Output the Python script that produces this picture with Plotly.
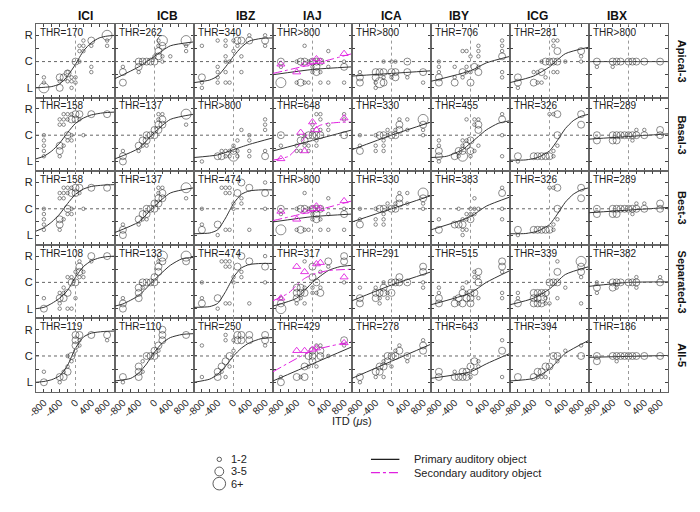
import plotly.graph_objects as go
from plotly.subplots import make_subplots

cols = ["ICI", "ICB", "IBZ", "IAJ", "ICA", "IBY", "ICG", "IBX"]
rows = ["Apical-3", "Basal-3", "Best-3", "Separated-3", "All-5"]
x_ticks = [-800, -400, 0, 400, 800]

thr_apical = ["THR=170", "THR=262", "THR=340", "THR>800", "THR>800", "THR=706", "THR=281", "THR>800"]
thr_basal = ["THR=158", "THR=137", "THR>800", "THR=648", "THR=330", "THR=455", "THR=326", "THR=289"]
thr_best = ["THR=158", "THR=137", "THR=474", "THR>800", "THR=330", "THR=383", "THR=326", "THR=289"]
thr_sep = ["THR=108", "THR=133", "THR=474", "THR=317", "THR=291", "THR=515", "THR=339", "THR=382"]
thr_all = ["THR=119", "THR=110", "THR=250", "THR=429", "THR=278", "THR=643", "THR=394", "THR=186"]

# points: (ITD, response, size class 1=1-2, 2=3-5, 3=6+)
ap_ICI = [(-800,-1,3),(-800,-0.8,1),(-800,-0.6,1),(-400,-1,2),(-400,-0.6,2),(-400,-0.75,1),(-300,-0.6,2),(-200,-0.45,2),(-200,-0.75,1),(-200,-0.4,1),(-100,-0.6,1),(-100,-0.75,1),(-100,-1,1),(0,0,2),(0,-0.6,1),(0,-0.8,1),(100,0.6,1),(100,0.4,1),(100,0,1),(200,0.8,1),(200,0.6,1),(200,0.4,1),(400,0.8,2),(400,0.6,1),(400,-0.2,1),(400,-0.4,1),(800,1,3),(800,0.8,1),(800,0.6,1)]
ap_ICB = [(-800,-0.8,2),(-800,-0.4,2),(-800,-0.2,1),(-400,-0.2,2),(-400,0,2),(-400,-0.4,1),(-300,0,2),(-200,0,2),(-100,0,2),(0,0,2),(0,0.2,1),(100,0.4,2),(100,0.2,2),(100,0.6,1),(100,0.8,1),(200,0.8,3),(200,0.6,2),(200,0.2,1),(200,0,1),(400,0.2,1),(800,0.8,3),(800,0.6,1),(800,0.4,1)]
ap_IBZ = [(-800,-0.6,2),(-800,-0.8,1),(-800,-1,1),(-800,0.6,1),(-400,-0.2,1),(-400,-0.4,1),(-400,-0.6,1),(-400,-0.8,1),(-400,0.8,1),(-200,0.8,1),(-200,0.6,1),(-200,0.2,1),(-200,0,1),(-200,-0.4,1),(-200,-0.8,1),(-100,-0.8,1),(-100,0,1),(0,0.8,1),(0,0.4,1),(100,0.8,2),(100,0.6,1),(200,0.8,2),(200,0.2,1),(200,-0.4,1),(400,0.8,2),(400,1,1),(800,0.8,2),(800,0.6,1),(800,1,1)]
ap_IAJ = [(-800,0,2),(-800,-0.8,3),(-800,-0.2,1),(-400,0,1),(-400,-0.8,1),(-300,0,2),(-300,-0.8,2),(-200,0,2),(-200,-0.8,1),(-200,0.6,1),(-100,0,1),(-100,-0.8,1),(0,0,2),(0,-0.2,1),(0,-0.4,1),(100,-0.2,2),(100,-0.4,2),(100,0,2),(200,0,2),(200,-0.4,1),(200,-0.8,1),(400,-0.2,1),(400,0.4,1),(400,-0.8,1),(800,0,1),(800,-0.2,2),(800,-0.8,1)]
ap_ICA = [(-800,-0.4,1),(-800,-0.6,2),(-800,-0.8,2),(-400,-0.4,2),(-400,-0.6,2),(-400,-0.8,1),(-400,-1,1),(-300,-0.4,2),(-300,-0.8,3),(-200,-0.4,2),(-200,-0.8,2),(-200,-0.6,1),(-200,0,1),(0,-0.4,2),(0,-0.6,1),(0,0,1),(100,-0.4,2),(100,-0.6,2),(100,0,1),(400,-0.4,2),(400,0,2),(400,-0.6,1),(800,-0.4,2),(800,-0.8,1)]
ap_IBY = [(-800,-0.6,2),(-800,-0.8,2),(-800,-0.4,1),(-800,-0.2,1),(-800,0,1),(-400,-0.6,1),(-400,-0.8,2),(-400,-0.2,1),(-200,-0.6,1),(-200,-0.4,2),(-200,0.4,1),(-100,-0.4,1),(-100,-0.2,1),(-100,0.4,1),(0,-0.4,1),(0,-0.8,2),(0,0.2,1),(100,-0.2,2),(200,-0.4,2),(200,-0.2,1),(200,0.2,1),(200,0.4,1),(200,0.6,1),(800,0.2,2),(800,0.4,1),(800,0.6,1),(800,0.8,1),(800,-0.6,1),(800,-0.4,1)]
ap_ICG = [(-800,-0.6,2),(-800,-0.8,2),(-800,-1,1),(-400,-0.8,2),(-400,-0.4,1),(-300,-0.4,1),(-300,-0.8,1),(-200,-0.8,1),(-200,-0.4,2),(-200,0,1),(-100,0,2),(-100,-0.6,1),(0,0,2),(100,0,2),(100,-0.4,1),(100,0.6,1),(100,0.8,1),(200,0,2),(200,0.4,2),(200,0.8,1),(200,-0.4,1),(400,0,1),(800,0.4,2),(800,0.2,1),(800,0,1)]
ap_IBX = [(-800,0,2),(-800,-0.2,1),(-400,0,2),(-400,-0.2,1),(-300,0,2),(-200,0,2),(0,0,2),(100,0,2),(200,0,2),(400,0,2),(800,0,2)]

ba_ICI = [(-800,-0.6,1),(-800,-0.8,1),(-800,-0.4,1),(-800,-0.2,1),(-800,0,1),(-400,-0.6,2),(-400,-0.4,2),(-400,-0.8,1),(-400,0.6,1),(-400,0.4,1),(-300,0.8,1),(-300,0.6,1),(-300,0.4,1),(-300,-0.4,1),(-200,0,2),(-200,0.8,1),(-200,0.6,1),(-200,-0.2,1),(-100,0.6,2),(-100,0.8,1),(-100,0,1),(-100,-0.2,1),(0,0.6,2),(0,0.8,2),(100,0.8,2),(100,0.6,1),(200,0,1),(400,0.8,2),(800,0.8,2)]
ba_ICB = [(-800,-0.8,2),(-800,-1,2),(-800,-0.6,1),(-400,-0.4,2),(-400,-0.6,1),(-300,-0.2,2),(-300,-0.4,1),(-200,0,2),(-200,-0.2,2),(-200,-0.4,1),(-100,0,2),(0,0,2),(0,0.2,2),(100,0.4,2),(100,0.2,2),(100,0.8,1),(100,0.6,1),(200,0.8,1),(200,0.6,2),(200,0.4,2),(800,0.8,3),(800,0.4,1)]
ba_IBZ = [(-800,-1,1),(-400,-0.8,2),(-300,-0.8,2),(-300,-0.6,1),(-200,-0.6,1),(-200,-0.8,1),(-100,-0.8,1),(-100,-0.6,1),(0,-0.6,2),(0,-0.8,3),(0,-0.4,1),(100,-0.6,1),(100,-0.8,1),(100,-0.2,1),(200,0.2,1),(400,-0.2,1),(400,0,1),(400,-0.6,1),(400,-0.8,1),(800,-0.8,2),(800,-0.6,1),(800,0.2,1),(800,0.4,1),(800,0.6,1)]
ba_IAJ = [(-800,0,2),(-800,-0.4,1),(-400,-0.4,1),(-400,-0.6,1),(-300,-0.2,2),(-300,-0.6,1),(-200,-0.2,2),(-200,-0.4,1),(-200,0,1),(-100,-0.4,1),(-100,-0.6,1),(-100,0,2),(0,0,2),(0,0.2,1),(0,0.4,1),(100,0,2),(100,-0.2,1),(100,-0.4,1),(100,0.8,1),(200,0,2),(200,0.2,1),(200,0.6,1),(200,0.8,1),(400,0.2,1),(400,0.4,1),(800,0,2),(800,0.6,1),(800,0.8,1)]
ba_ICA = [(-800,-0.6,2),(-800,-0.4,1),(-800,0,1),(-400,0,1),(-400,-0.4,1),(-400,-0.6,1),(-300,0,2),(-200,0,2),(-200,-0.2,1),(-200,-0.4,1),(-200,-0.6,1),(-100,0,1),(-100,0.2,1),(0,0,2),(100,0,2),(100,0.2,1),(200,0.2,2),(200,0.4,2),(200,0.6,1),(400,0.2,1),(400,0.6,1),(800,0.6,3),(800,0.4,2),(800,0.2,1),(800,0,1)]
ba_IBY = [(-800,-0.8,2),(-800,-0.6,2),(-800,-0.4,1),(-800,-0.2,1),(-800,-1,1),(-400,-0.8,2),(-300,-0.6,2),(-300,-0.8,1),(-200,-0.6,2),(-200,-0.8,3),(-200,-0.4,1),(-200,-0.2,1),(-100,-0.4,2),(-100,-0.2,1),(-100,0.6,1),(0,-0.2,2),(0,-0.6,2),(0,-0.8,1),(100,-0.6,1),(100,0.6,1),(100,0.4,1),(200,0.6,1),(200,0.4,2),(200,0.2,2),(200,-0.4,1),(800,0.6,2),(800,0.8,1),(800,0,1),(800,-0.8,1)]
ba_ICG = [(-800,-0.8,2),(-800,-1,1),(-400,-0.8,2),(-300,-0.8,2),(-200,-0.8,2),(-100,-0.8,2),(0,-0.8,2),(100,-0.6,1),(100,-0.8,1),(0,0.8,1),(100,0.8,1),(200,0.8,2),(200,0,2),(200,-0.4,1),(800,0.8,2),(800,0.4,2)]
ba_IBX = [(-800,0,2),(-800,-0.2,2),(-400,0,2),(-400,-0.2,2),(-300,0,2),(-300,-0.2,2),(-200,0,2),(-100,0,2),(0,0,2),(100,0,2),(100,-0.2,1),(200,0,2),(200,0.2,1),(400,0,2),(400,0.2,1),(800,0.2,2),(800,0,2)]

be_IBZ = [(-800,-0.8,2),(-800,-0.6,1),(-800,0,1),(-400,-0.6,2),(-400,-1,1),(-300,0.8,1),(-200,0.8,1),(-200,0.6,1),(-200,-0.8,1),(-100,0.8,1),(-100,0.6,1),(-100,-0.8,1),(0,0,1),(0,0.2,1),(100,0.6,2),(200,0.4,1),(200,0.2,1),(200,1,2),(400,0.8,2),(400,-0.8,1),(800,0.6,2),(800,1,1),(800,0,1)]
be_IBY = [(-800,-0.8,2),(-800,-0.4,1),(-400,-0.6,2),(-300,-0.6,2),(-200,-0.6,2),(-200,-0.4,1),(-200,-0.8,1),(-200,-1,1),(-300,0,1),(-100,-0.2,1),(-100,-0.4,1),(-100,-0.8,1),(0,-0.4,2),(0,-0.2,1),(0,0,1),(100,0,1),(100,-0.2,1),(100,0.4,1),(200,0,1),(800,0.6,2),(800,0.8,1),(800,0,1),(800,-0.4,1)]

se_ICI = [(-800,-1,2),(-800,-0.6,1),(-400,-0.6,2),(-400,-0.4,1),(-400,-0.8,1),(-400,-1,1),(-300,-0.6,2),(-300,-0.4,1),(-300,-0.2,1),(-200,-0.4,2),(-200,0.2,1),(-200,-1,1),(-100,0,2),(-100,0.2,1),(-100,-1,1),(0,0,2),(0,0.4,1),(0,-0.6,1),(100,0.6,2),(100,0.4,2),(100,0.8,1),(100,0.2,1),(200,0.4,1),(200,0.2,1),(400,1,2),(400,0.8,1),(800,1,2)]
se_ICB = [(-800,-0.8,2),(-800,-1,2),(-800,-0.6,1),(-400,-0.4,2),(-400,-0.6,2),(-400,-0.2,2),(-300,0,2),(-300,-0.2,1),(-200,0,2),(-100,0,2),(0,0,2),(0,0.2,2),(100,0.4,2),(100,0.6,2),(100,0.8,1),(200,1,3),(200,0.8,2),(800,1,3),(800,0.8,2)]
se_IAJ = [(-800,-0.8,2),(-800,-1,3),(-800,-0.6,1),(-400,-0.6,2),(-400,-0.4,2),(-400,-0.2,2),(-400,-0.8,1),(-300,-0.4,2),(-300,-0.2,2),(-300,-0.6,1),(-200,-0.4,2),(-200,-0.8,1),(-200,-0.2,1),(-200,0.8,1),(0,0.2,2),(0,0.6,2),(0,-0.2,1),(0,-0.4,1),(100,0,2),(100,-0.4,1),(200,-0.4,2),(200,0.4,1),(200,-0.2,1),(400,0.8,2),(400,0.6,1),(800,1,2),(800,0.8,2),(800,0,1)]
se_ICA = [(-800,-0.6,2),(-800,-0.8,2),(-800,-0.2,1),(-400,-0.4,2),(-400,-0.6,2),(-400,-0.2,1),(-300,-0.4,2),(-300,-0.6,1),(-300,-0.8,1),(-200,-0.2,2),(-200,-0.4,2),(-200,0,1),(-100,-0.4,1),(-100,-0.6,1),(0,-0.4,2),(0,0,2),(100,0,2),(200,0,2),(200,0.2,2),(400,0,2),(800,0.4,2),(800,0.6,2),(800,0,1),(800,-0.2,1)]
se_IBY = [(-800,-0.8,2),(-800,-0.6,2),(-800,-0.4,1),(-800,-0.2,1),(-400,-0.8,2),(-400,-0.6,1),(-300,-0.6,2),(-300,-0.8,1),(-200,-0.4,2),(-200,-0.8,2),(-200,-0.2,1),(-100,-0.6,2),(-100,-0.4,1),(-100,0,1),(0,-0.4,2),(0,-0.6,2),(0,-0.8,2),(100,-0.4,2),(100,0.2,1),(100,0.4,1),(200,0,2),(200,0.4,2),(200,0.2,1),(200,-0.6,1),(800,0.8,2),(800,0.6,2),(800,0.4,1),(800,-0.4,1),(800,-0.6,1)]
se_ICG = [(-800,-0.8,2),(-800,-0.6,1),(-800,-0.4,1),(-400,-0.8,2),(-400,-0.6,2),(-400,-0.4,2),(-300,-0.8,2),(-300,-0.6,2),(-300,-0.4,2),(-200,-0.8,2),(-200,-0.6,3),(-200,-0.4,2),(-100,-0.4,2),(-100,-0.6,1),(-100,-0.8,1),(0,0,2),(0,-0.8,1),(100,0,2),(200,0.4,2),(200,0,2),(200,-0.6,1),(200,0.8,1),(400,-0.2,1),(800,0.8,3),(800,0.6,2),(800,0.4,2),(800,0.2,1),(800,-0.8,1)]
se_IBX = [(-800,-0.2,2),(-800,0,1),(-800,-0.4,1),(-400,0,2),(-400,-0.2,2),(-300,0,2),(-300,-0.2,1),(-200,0,2),(0,0,2),(100,0,2),(200,0,2),(200,-0.2,1),(200,0.2,1),(800,0,2),(800,0.2,1)]

al_ICI = [(-800,-1,2),(-800,-0.6,1),(-400,-0.8,2),(-400,-1,1),(-300,-0.8,2),(-300,-0.6,1),(-200,-0.6,2),(-200,-0.4,1),(-200,0,1),(-100,0,2),(-100,-0.2,1),(0,0.6,2),(0,0.4,2),(0,0.8,2),(0,0.2,1),(100,0.8,2),(100,0.4,1),(100,0.6,1),(400,0.8,2),(800,0.8,2),(800,0.6,1)]
al_ICB = [(-800,-0.8,2),(-800,-1,1),(-400,-0.6,2),(-400,-0.4,2),(-400,-0.8,2),(-300,-0.2,1),(-300,-0.6,1),(-200,0,2),(-100,0,2),(0,0,2),(0,0.2,2),(100,0.4,2),(100,0.2,1),(200,0.6,2),(200,0.8,2),(200,1,2),(800,0.8,2)]
al_IBZ = [(-800,-0.8,1),(-800,0.4,1),(-400,-0.6,2),(-400,-0.8,2),(-300,-0.4,2),(-300,-0.6,1),(-200,-0.2,2),(-200,-0.8,1),(-200,0.6,1),(-200,0.8,1),(-100,0,2),(-100,-0.4,1),(0,0.2,1),(0,0.6,1),(100,0.6,2),(100,0.8,2),(200,0.6,2),(200,0.8,2),(400,0.6,2),(400,0.8,2),(800,0.6,2),(800,0.8,2),(800,0.4,1)]
al_IAJ = [(-800,-1,2),(-800,-0.8,1),(-400,-0.8,2),(-300,-0.8,1),(-200,-0.4,2),(-200,-0.8,2),(-100,-0.4,1),(-100,0,2),(0,-0.2,2),(0,0,2),(0,0.2,2),(100,-0.4,1),(100,0.4,1),(200,0,2),(200,0.2,2),(200,0.4,1),(400,0,1),(800,0.6,2),(800,0.4,1)]
al_ICA = [(-800,-0.8,2),(-800,-1,1),(-400,-0.6,2),(-400,-0.8,1),(-300,-0.4,2),(-300,-0.6,2),(-200,-0.4,2),(-200,-0.2,1),(-200,-0.8,1),(-100,0,2),(-100,-0.2,2),(0,0,2),(0,-0.4,1),(100,0,2),(100,0.2,1),(200,0.2,2),(200,0.4,1),(400,0,2),(400,-0.2,1),(800,0.4,2),(800,0.2,2),(800,0.6,1)]
al_IBY = [(-800,-0.8,2),(-800,-0.6,2),(-400,-0.8,2),(-400,-0.6,1),(-300,-0.8,2),(-200,-0.8,2),(-200,-0.6,2),(-100,-0.8,2),(-100,-0.6,2),(0,-0.4,2),(0,-0.8,1),(100,-0.2,2),(100,-0.6,2),(200,-0.4,1),(200,-0.2,1),(800,0.2,2),(800,-0.8,1),(800,0.6,1)]
al_ICG = [(-800,-0.8,2),(-400,-0.8,2),(-300,-0.6,2),(-300,-0.8,1),(-200,-0.6,2),(-200,-0.8,1),(-100,-0.4,2),(-100,-0.8,1),(0,-0.4,2),(100,0,2),(200,0,2),(200,-0.2,1),(400,0.2,1),(800,0,2),(800,0.4,1)]
al_IBX = [(-800,0,2),(-800,-0.2,2),(-400,0,2),(-300,0,2),(-300,-0.2,1),(-200,0,2),(-100,0,2),(0,0,2),(100,0,2),(200,0,2),(400,0,2),(800,0,2)]

pts_grid = [
    [ap_ICI, ap_ICB, ap_IBZ, ap_IAJ, ap_ICA, ap_IBY, ap_ICG, ap_IBX],
    [ba_ICI, ba_ICB, ba_IBZ, ba_IAJ, ba_ICA, ba_IBY, ba_ICG, ba_IBX],
    [ba_ICI, ba_ICB, be_IBZ, ap_IAJ, ba_ICA, be_IBY, ba_ICG, ba_IBX],
    [se_ICI, se_ICB, be_IBZ, se_IAJ, se_ICA, se_IBY, se_ICG, se_IBX],
    [al_ICI, al_ICB, al_IBZ, al_IAJ, al_ICA, al_IBY, al_ICG, al_IBX],
]

# primary fitted curves: (ITD, response) knots
curve_grid = [
    [[(-1000,-1),(-800,-0.98),(-600,-0.95),(-400,-0.85),(-200,-0.55),(0,-0.1),(200,0.4),(400,0.72),(600,0.9),(800,0.97),(1000,1)],
     [(-1000,-0.65),(-400,-0.2),(0,0.2),(400,0.6),(1000,0.75)],
     [(-1000,-0.8),(-600,-0.7),(-400,-0.55),(-200,-0.2),(0,0.2),(200,0.55),(400,0.78),(700,0.88),(1000,0.9)],
     [(-1000,-0.5),(0,-0.3),(1000,-0.2)],
     [(-1000,-0.55),(0,-0.45),(1000,-0.35)],
     [(-1000,-0.75),(0,-0.35),(400,-0.05),(1000,0.2)],
     [(-1000,-0.8),(-400,-0.55),(0,-0.2),(400,0.3),(1000,0.55)],
     [(-1000,0),(1000,0)]],
    [[(-1000,-0.9),(-800,-0.8),(-600,-0.6),(-400,-0.3),(-200,0.1),(0,0.45),(200,0.65),(400,0.77),(700,0.85),(1000,0.88)],
     [(-1000,-0.9),(-400,-0.5),(0,0.1),(400,0.6),(1000,0.8)],
     [(-1000,-0.85),(-400,-0.75),(0,-0.55),(400,-0.35),(1000,-0.1)],
     [(-1000,-0.6),(0,-0.2),(1000,0.2)],
     [(-1000,-0.55),(0,0),(1000,0.5)],
     [(-1000,-0.85),(-600,-0.8),(-200,-0.55),(0,-0.3),(200,-0.05),(400,0.2),(700,0.45),(1000,0.55)],
     [(-1000,-0.95),(-600,-0.94),(-300,-0.85),(0,-0.6),(200,-0.2),(400,0.25),(600,0.55),(800,0.72),(1000,0.8)],
     [(-1000,-0.15),(0,-0.05),(1000,0.05)]],
    [[(-1000,-0.85),(-800,-0.72),(-600,-0.5),(-400,-0.2),(-200,0.2),(0,0.55),(200,0.75),(400,0.85),(700,0.9),(1000,0.92)],
     [(-1000,-0.9),(-400,-0.5),(0,0.1),(400,0.6),(1000,0.8)],
     [(-1000,-0.95),(-600,-0.92),(-400,-0.8),(-200,-0.35),(0,0.2),(200,0.55),(400,0.68),(700,0.72),(1000,0.72)],
     [(-1000,-0.5),(0,-0.3),(1000,-0.2)],
     [(-1000,-0.5),(0,0),(1000,0.5)],
     [(-1000,-0.8),(0,-0.3),(400,0.1),(1000,0.45)],
     [(-1000,-0.95),(-600,-0.94),(-300,-0.85),(0,-0.6),(200,-0.2),(400,0.25),(600,0.55),(800,0.72),(1000,0.8)],
     [(-1000,-0.15),(0,-0.05),(1000,0.05)]],
    [[(-1000,-1),(-800,-0.95),(-600,-0.8),(-400,-0.6),(-200,-0.3),(0,0.2),(200,0.6),(400,0.82),(600,0.93),(800,0.98),(1000,1)],
     [(-1000,-0.9),(-800,-0.82),(-400,-0.5),(0,0.1),(400,0.65),(700,0.9),(1000,0.95)],
     [(-1000,-0.95),(-600,-0.92),(-400,-0.8),(-200,-0.35),(0,0.2),(200,0.55),(400,0.68),(700,0.72),(1000,0.72)],
     [(-1000,-0.9),(-400,-0.6),(0,0),(400,0.45),(700,0.6),(1000,0.65)],
     [(-1000,-0.7),(0,-0.1),(1000,0.4)],
     [(-1000,-0.85),(0,-0.4),(400,0),(1000,0.45)],
     [(-1000,-0.85),(-400,-0.6),(0,-0.25),(400,0.3),(1000,0.6)],
     [(-1000,-0.15),(0,0),(1000,0.02)]],
    [[(-1000,-1),(-800,-0.97),(-600,-0.9),(-400,-0.75),(-200,-0.35),(0,0.3),(200,0.72),(400,0.87),(700,0.93),(1000,0.95)],
     [(-1000,-0.95),(-600,-0.85),(-400,-0.65),(-200,-0.3),(0,0.15),(200,0.5),(400,0.7),(700,0.82),(1000,0.85)],
     [(-1000,-1),(-600,-0.88),(-400,-0.7),(-200,-0.38),(0,0),(200,0.3),(400,0.5),(700,0.66),(1000,0.7)],
     [(-1000,-0.95),(0,-0.3),(1000,0.35)],
     [(-1000,-0.85),(0,-0.2),(1000,0.45)],
     [(-1000,-0.85),(0,-0.6),(400,-0.3),(1000,0.1)],
     [(-1000,-0.95),(-400,-0.85),(0,-0.5),(400,0.1),(1000,0.6)],
     [(-1000,-0.05),(1000,0.02)]],
]

# secondary auditory object (IAJ column): curve knots and triangle points
sec_curves = [
    [(-1000,-0.45),(0,-0.1),(1000,0.3)],
    [(-1000,-0.95),(-600,-0.8),(-400,-0.5),(-200,-0.1),(0,0.2),(200,0.38),(400,0.45),(700,0.49),(1000,0.5)],
    [(-1000,-0.45),(0,-0.1),(1000,0.3)],
    [(-1000,-0.7),(-600,-0.4),(-400,-0.1),(-200,0.15),(0,0.3),(400,0.45),(1000,0.5)],
    [(-1000,-0.6),(0,0.2),(1000,0.55)],
]
sec_tri = [
    [(-800,-0.1),(-400,-0.4),(-200,-0.1),(0,0),(100,0.1),(200,0),(800,0.3)],
    [(-800,-0.9),(-300,0.1),(-200,-0.6),(0,0.5),(100,0.2),(800,0.65)],
    [(-800,-0.1),(-400,-0.4),(-200,-0.1),(0,0),(100,0.1),(200,0),(800,0.3)],
    [(-800,-0.6),(-400,0.6),(-200,0.4),(100,0.7),(200,0.75),(800,0.2)],
    [(-400,0.2),(-200,0.2),(0,0.25),(100,0.3),(800,0.5)],
]

size_px = {1: 3.5, 2: 7, 3: 10}
FONT = "Liberation Sans, Arial, sans-serif"

fig = make_subplots(rows=5, cols=8, horizontal_spacing=0, vertical_spacing=0)
thr_rows = [thr_apical, thr_basal, thr_best, thr_sep, thr_all]
all_ticks = [-800, -600, -400, -200, 0, 200, 400, 600, 800]

for r in range(5):
    for c in range(8):
        pts = pts_grid[r][c]
        fig.add_trace(go.Scatter(
            x=[p[0] for p in pts], y=[p[1] for p in pts], mode="markers",
            marker=dict(symbol="circle-open", color="#333", size=[size_px[p[2]] for p in pts], line=dict(width=0.8)),
            showlegend=False, hoverinfo="skip"), row=r+1, col=c+1)
        cv = curve_grid[r][c]
        fig.add_trace(go.Scatter(
            x=[p[0] for p in cv], y=[p[1] for p in cv], mode="lines",
            line=dict(color="#333", width=1, shape="spline", smoothing=0.6),
            showlegend=False, hoverinfo="skip"), row=r+1, col=c+1)
        if c == 3:
            sc = sec_curves[r]
            fig.add_trace(go.Scatter(
                x=[p[0] for p in sc], y=[p[1] for p in sc], mode="lines",
                line=dict(color="#e020e0", width=1, dash="dashdot", shape="spline", smoothing=0.6),
                showlegend=False, hoverinfo="skip"), row=r+1, col=c+1)
            st = sec_tri[r]
            fig.add_trace(go.Scatter(
                x=[p[0] for p in st], y=[p[1] for p in st], mode="markers",
                marker=dict(symbol="triangle-up-open", color="#e020e0", size=7, line=dict(width=0.9)),
                showlegend=False, hoverinfo="skip"), row=r+1, col=c+1)
        fig.add_vline(x=0, line=dict(color="#999", width=1, dash="dot"), row=r+1, col=c+1)
        fig.add_hline(y=0, line=dict(color="#666", width=1, dash="dot"), row=r+1, col=c+1)
        idx = r*8 + c + 1
        xr = "x" if idx == 1 else f"x{idx}"
        yr = "y" if idx == 1 else f"y{idx}"
        fig.add_annotation(text=thr_rows[r][c], xref=f"{xr} domain", yref=f"{yr} domain",
                           x=0.02, y=0.99, xanchor="left", yanchor="top", showarrow=False,
                           font=dict(size=10, color="#222", family=FONT))
        fig.update_xaxes(range=[-1000, 1000], tickvals=all_ticks,
                         ticktext=[str(v) if v in x_ticks else "" for v in all_ticks],
                         ticks="inside", ticklen=3, mirror="allticks", showline=True, linecolor="#666", linewidth=1,
                         showgrid=False, zeroline=False, showticklabels=(r == 4), tickangle=-45,
                         tickfont=dict(size=10, family=FONT, color="#222"), row=r+1, col=c+1)
        fig.update_yaxes(range=[-1.37, 1.43], tickvals=[-1, -0.5, 0, 0.5, 1], ticktext=["L", "", "C", "", "R"],
                         ticks="inside", ticklen=3, mirror="allticks", showline=True, linecolor="#666", linewidth=1,
                         showgrid=False, zeroline=False, showticklabels=(c == 0),
                         tickfont=dict(size=11, family=FONT, color="#222"), row=r+1, col=c+1)

for c, name in enumerate(cols):
    fig.add_annotation(text=f"<b>{name}</b>", xref="paper", yref="paper", x=(c+0.5)/8, y=1.0,
                       yanchor="bottom", yshift=-1, showarrow=False, font=dict(size=12, family=FONT, color="#111"))
for r, name in enumerate(rows):
    fig.add_annotation(text=f"<b>{name}</b>", xref="paper", yref="paper", x=1.0, y=1-(r+0.5)/5,
                       xanchor="left", yanchor="middle", xshift=6, textangle=90, showarrow=False,
                       font=dict(size=11, family=FONT, color="#111"))

fig.add_annotation(text="ITD (<i>μ</i>s)", xref="paper", yref="paper", x=0.5, y=-0.1, showarrow=False,
                   font=dict(size=11, family=FONT, color="#222"))

# legend (drawn in paper space)
size_labels = ["1-2", "3-5", "6+"]
for i, lab in enumerate(size_labels):
    yy = -0.183 - i*0.033
    rad = [0.0035, 0.007, 0.01][i]
    fig.add_shape(type="circle", xref="paper", yref="paper", x0=0.29-rad, x1=0.29+rad,
                  y0=yy-rad*632/368, y1=yy+rad*632/368, line=dict(color="#333", width=0.8))
    fig.add_annotation(text=lab, xref="paper", yref="paper", x=0.305, y=yy, xanchor="left", yanchor="middle",
                       showarrow=False, font=dict(size=11, family=FONT, color="#222"))
leg_lines = [("Primary auditory object", "#111", "solid"), ("Secondary auditory object", "#e020e0", "dashdot")]
for i, (lab, colr, dsh) in enumerate(leg_lines):
    yy = -0.183 - i*0.036
    fig.add_shape(type="line", xref="paper", yref="paper", x0=0.53, x1=0.575, y0=yy, y1=yy,
                  line=dict(color=colr, width=1.2, dash=dsh))
    fig.add_annotation(text=lab, xref="paper", yref="paper", x=0.595, y=yy, xanchor="left", yanchor="middle",
                       showarrow=False, font=dict(size=11, family=FONT, color="#222"))

fig.update_layout(width=700, height=512, margin=dict(l=28, r=40, t=16, b=128),
                  plot_bgcolor="white", paper_bgcolor="white", font=dict(family=FONT))
fig.write_html("out.html")
